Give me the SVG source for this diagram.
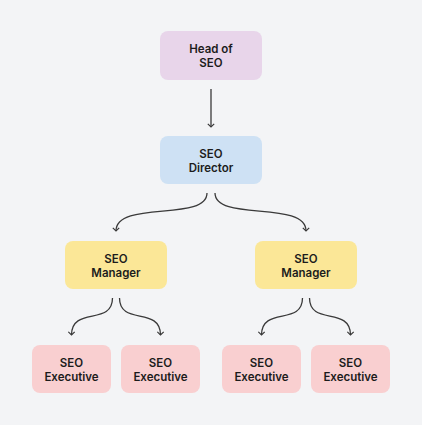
<svg xmlns="http://www.w3.org/2000/svg" width="422" height="425" viewBox="0 0 422 425">
<defs>
<style>
.box{stroke:none}
.t{font-family:Inter,"Noto Sans","Liberation Sans",sans-serif;font-size:11.5px;font-weight:600;fill:#1c1c1c;text-anchor:middle}
.c{fill:none;stroke:#3a3a3a;stroke-width:1.3}
</style>
<marker id="ah" viewBox="0 0 10 10" refX="9" refY="5" markerWidth="8" markerHeight="8" markerUnits="userSpaceOnUse" orient="auto">
<path d="M5,1 L9,5 L5,9" fill="none" stroke="#3a3a3a" stroke-width="1.5"/>
</marker>
</defs>
<rect width="422" height="425" fill="#f3f4f6"/>
<g id="connectors">
<path class="c" d="M211,89 L211,127" marker-end="url(#ah)"/>
<path class="c" d="M207,193 C207,222 116,200 116,231" marker-end="url(#ah)"/>
<path class="c" d="M215,193 C215,222 306,200 306,231" marker-end="url(#ah)"/>
<path class="c" d="M112.5,298 C112.5,326 71.5,306 71.5,335" marker-end="url(#ah)"/>
<path class="c" d="M119.5,298 C119.5,326 160.5,306 160.5,335" marker-end="url(#ah)"/>
<path class="c" d="M302.5,298 C302.5,326 261.5,306 261.5,335" marker-end="url(#ah)"/>
<path class="c" d="M309.5,298 C309.5,326 350.5,306 350.5,335" marker-end="url(#ah)"/>
</g>
<g id="head">
<rect class="box" x="160" y="31" width="102" height="49" rx="8" fill="#e8d5ea"/>
<text class="t" x="211" y="53">Head of</text>
<text class="t" x="211" y="67">SEO</text>
</g>
<g id="director">
<rect class="box" x="160" y="136" width="102" height="48" rx="8" fill="#cee1f4"/>
<text class="t" x="211" y="158">SEO</text>
<text class="t" x="211" y="172">Director</text>
</g>
<g id="manager1">
<rect class="box" x="65" y="241" width="102" height="48" rx="8" fill="#fbe797"/>
<text class="t" x="116" y="263">SEO</text>
<text class="t" x="116" y="277">Manager</text>
</g>
<g id="manager2">
<rect class="box" x="255" y="241" width="102" height="48" rx="8" fill="#fbe797"/>
<text class="t" x="306" y="263">SEO</text>
<text class="t" x="306" y="277">Manager</text>
</g>
<g id="exec1">
<rect class="box" x="32" y="345" width="79" height="48" rx="8" fill="#f9cfd0"/>
<text class="t" x="71.5" y="367">SEO</text>
<text class="t" x="71.5" y="381">Executive</text>
</g>
<g id="exec2">
<rect class="box" x="121" y="345" width="79" height="48" rx="8" fill="#f9cfd0"/>
<text class="t" x="160.5" y="367">SEO</text>
<text class="t" x="160.5" y="381">Executive</text>
</g>
<g id="exec3">
<rect class="box" x="222" y="345" width="79" height="48" rx="8" fill="#f9cfd0"/>
<text class="t" x="261.5" y="367">SEO</text>
<text class="t" x="261.5" y="381">Executive</text>
</g>
<g id="exec4">
<rect class="box" x="311" y="345" width="79" height="48" rx="8" fill="#f9cfd0"/>
<text class="t" x="350.5" y="367">SEO</text>
<text class="t" x="350.5" y="381">Executive</text>
</g>
</svg>
